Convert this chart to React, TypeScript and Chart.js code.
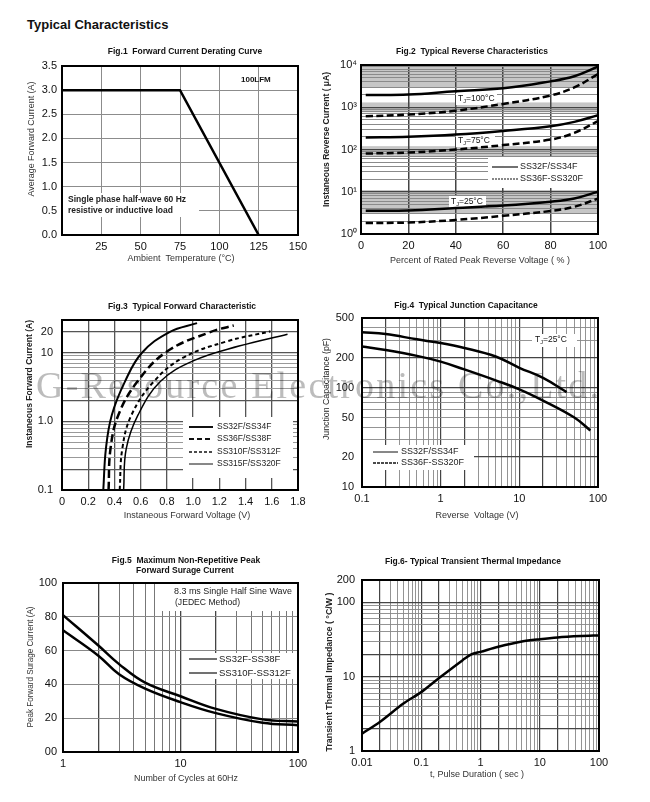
import React, { useEffect, useRef } from "react";
import { Chart, registerables } from "chart.js";
Chart.register(...registerables);

const SANS = "'Liberation Sans', Arial, Helvetica, sans-serif";

// ---------------- Fig.1 Forward Current Derating Curve
const fig1Temp = [0, 75, 125];
const fig1Current = [3.0, 3.0, 0.0];

// ---------------- Fig.2 Typical Reverse Characteristics
const fig2Percent = [2, 20, 40, 60, 80, 90, 100];
const fig2Solid100 = [1950, 2000, 2400, 2800, 4100, 5400, 9100];
const fig2Dash100 = [610, 670, 830, 1200, 1900, 2950, 6100];
const fig2Solid75 = [192, 200, 225, 275, 355, 450, 650];
const fig2Dash75 = [80, 85, 100, 127, 172, 247, 470];
const fig2Solid25 = [3.55, 3.6, 4.1, 4.7, 5.8, 6.9, 10];
const fig2Dash25 = [1.82, 1.87, 2.15, 2.7, 3.5, 4.4, 6.9];
const fig2YTickValues = [1, 10, 100, 1000, 10000];
const fig2YTickLabels = ["10⁰", "10¹", "10²", "10³", "10⁴"];

// ---------------- Fig.3 Typical Forward Characteristic
const fig3V1 = [0.315, 0.335, 0.38, 0.48, 0.61, 0.82, 1.03];
const fig3I1 = [0.1, 0.4, 1.24, 3.8, 10, 20, 27];
const fig3V2 = [0.355, 0.37, 0.43, 0.575, 0.8, 1.13, 1.31];
const fig3I2 = [0.1, 0.4, 1.24, 3.8, 10.4, 20, 25];
const fig3V3 = [0.44, 0.46, 0.53, 0.7, 0.92, 1.25, 1.59];
const fig3I3 = [0.1, 0.4, 1.24, 3.8, 8.4, 14.5, 20.5];
const fig3V4 = [0.47, 0.49, 0.58, 0.75, 1.0, 1.35, 1.72];
const fig3I4 = [0.1, 0.4, 1.24, 3.8, 7.6, 12.5, 18.6];
const fig3YTickValues = [0.1, 1, 10, 20];
const fig3YTickLabels = ["0.1", "1.0", "10", "20"];

// ---------------- Fig.4 Typical Junction Capacitance
const fig4VUpper = [0.1, 0.2, 0.5, 1, 2, 5, 10, 20, 40];
const fig4CUpper = [360, 345, 305, 280, 250, 205, 158, 125, 90];
const fig4VLower = [0.1, 0.2, 0.5, 1, 2, 5, 10, 20, 50, 80];
const fig4CLower = [258, 238, 208, 182, 152, 118, 96, 74, 50, 37];
const fig4YTickValues = [10, 20, 50, 100, 200, 500];
const fig4YTickLabels = ["10", "20", "50", "100", "200", "500"];
const fig4XTickValues = [0.1, 1, 10, 100];
const fig4XTickLabels = ["0.1", "1", "10", "100"];

// ---------------- Fig.5 Maximum Non-Repetitive Peak Forward Surge Current
const fig5Cycles = [1, 2, 3, 5, 10, 20, 50, 100];
const fig5Upper = [81, 63, 52, 41, 33, 25.5, 19.3, 18];
const fig5Lower = [72, 57, 46, 37.5, 29.5, 23, 17.3, 15.8];
const fig5XTickValues = [1, 10, 100];
const fig5XTickLabels = ["1", "10", "100"];

// ---------------- Fig.6 Typical Transient Thermal Impedance
const fig6Time = [0.01, 0.02, 0.05, 0.1, 0.2, 0.5, 0.7, 1, 2, 5, 10, 20, 50, 100];
const fig6Z = [1.71, 2.46, 4.35, 6.2, 9.6, 16.7, 20, 21.6, 25.3, 29.8, 32, 33.8, 35.2, 35.9];
const fig6YTickValues = [1, 10, 100, 200];
const fig6YTickLabels = ["1", "10", "100", "200"];
const fig6XTickValues = [0.01, 0.1, 1, 10, 100];
const fig6XTickLabels = ["0.01", "0.1", "1", "10", "100"];

// ---------------- helpers
type TextSpec = { t: string; x: number; y: number; size: number; bold?: boolean; align?: CanvasTextAlign; rot?: boolean; maxW?: number; color?: string };
type LineSpec = { x0: number; x1: number; y: number; w: number; dash?: number[] };
type TJSpec = { x: number; y: number; rest: string };
type DecoSpec = { ox: number; oy: number; boxes?: number[][]; texts?: TextSpec[]; lines?: LineSpec[]; tj?: TJSpec[]; bands?: number[][]; bandColor?: string };

function makeDeco(d: DecoSpec) {
  return {
    id: "deco",
    beforeDraw(chart: any) {
      const ctx = chart.ctx;
      const a = chart.chartArea;
      ctx.save();
      ctx.fillStyle = "#fff";
      ctx.fillRect(0, 0, chart.width, chart.height);
      if (d.bands) {
        const ys = chart.scales.y;
        ctx.fillStyle = d.bandColor || "#c8c8c8";
        for (const [lo, hi] of d.bands) {
          const y0 = ys.getPixelForValue(hi);
          const y1 = ys.getPixelForValue(lo);
          ctx.fillRect(a.left, y0, a.right - a.left, y1 - y0);
        }
      }
      ctx.restore();
    },
    beforeDatasetsDraw(chart: any) {
      const ctx = chart.ctx;
      ctx.save();
      ctx.fillStyle = "#fff";
      for (const [x0, y0, x1, y1] of d.boxes || []) ctx.fillRect(x0 - d.ox, y0 - d.oy, x1 - x0, y1 - y0);
      ctx.restore();
    },
    afterDatasetsDraw(chart: any) {
      const ctx = chart.ctx;
      const a = chart.chartArea;
      ctx.save();
      ctx.strokeStyle = "#000";
      ctx.lineWidth = 2;
      ctx.strokeRect(a.left, a.top, a.right - a.left, a.bottom - a.top);
      for (const l of d.lines || []) {
        ctx.beginPath();
        ctx.setLineDash(l.dash || []);
        ctx.lineWidth = l.w;
        ctx.strokeStyle = "#111";
        ctx.moveTo(l.x0 - d.ox, l.y - d.oy);
        ctx.lineTo(l.x1 - d.ox, l.y - d.oy);
        ctx.stroke();
      }
      ctx.setLineDash([]);
      ctx.textBaseline = "middle";
      for (const t of d.texts || []) {
        ctx.font = `${t.bold ? "bold " : ""}${t.size}px ${SANS}`;
        ctx.fillStyle = t.color || "#111";
        ctx.textAlign = t.align || "left";
        const x = t.x - d.ox;
        const y = t.y - d.oy;
        if (t.rot) {
          ctx.save();
          ctx.translate(x, y);
          ctx.rotate(-Math.PI / 2);
          if (t.maxW) ctx.fillText(t.t, 0, 0, t.maxW);
          else ctx.fillText(t.t, 0, 0);
          ctx.restore();
        } else if (t.maxW) ctx.fillText(t.t, x, y, t.maxW);
        else ctx.fillText(t.t, x, y);
      }
      ctx.textAlign = "left";
      ctx.fillStyle = "#111";
      for (const j of d.tj || []) {
        let x = j.x - d.ox;
        const y = j.y - d.oy;
        ctx.font = `8.5px ${SANS}`;
        ctx.fillText("T", x, y);
        x += ctx.measureText("T").width;
        ctx.font = `5.5px ${SANS}`;
        ctx.fillText("J", x, y + 2.5);
        x += ctx.measureText("J").width;
        ctx.font = `8.5px ${SANS}`;
        ctx.fillText(j.rest, x, y);
      }
      ctx.restore();
    },
  };
}

function logTicks(min: number, max: number) {
  const out: number[] = [];
  let e = Math.floor(Math.log10(min) + 1e-9);
  for (let guard = 0; guard < 20; guard++) {
    for (let s = 1; s <= 9; s++) {
      const v = parseFloat((s * Math.pow(10, e)).toPrecision(6));
      if (v > max * (1 + 1e-9)) return out;
      if (v >= min * (1 - 1e-9)) out.push(v);
    }
    e++;
  }
  return out;
}

function sigOf(v: number) {
  const e = Math.floor(Math.log10(v) + 1e-9);
  return Math.round(v / Math.pow(10, e));
}

function lookup(values: number[], labels: string[]) {
  return (v: any) => {
    const n = Number(v);
    const i = values.findIndex((t) => Math.abs(t - n) <= Math.abs(t) * 1e-6);
    return i >= 0 ? labels[i] : "";
  };
}

const TICK_FONT = { family: SANS, size: 11 };
const TICK_COLOR = "#111";

function logGrid(major: string, minor: string, mw: number, nw: number) {
  return {
    drawTicks: false,
    color: (c: any) => (c.tick && [1, 2].includes(sigOf(c.tick.value)) ? major : minor),
    lineWidth: (c: any) => (c.tick && [1, 2].includes(sigOf(c.tick.value)) ? mw : nw),
  };
}

function layoutFor(rect: number[], plot: number[]) {
  const [cx, cy, cw, ch] = rect;
  const [pl, pt, pr, pb] = plot;
  return {
    padding: { left: 0, top: pt - cy, right: cx + cw - pr, bottom: 0 },
    yFit: (s: any) => {
      s.width = pl - cx;
    },
    xFit: (s: any) => {
      s.height = cy + ch - pb;
    },
  };
}

function pts(xs: number[], ys: number[]) {
  return xs.map((x, i) => ({ x, y: ys[i] }));
}

function ds(xs: number[], ys: number[], w: number, dash: number[] = [], tension = 0.4) {
  return {
    data: pts(xs, ys),
    borderColor: "#000",
    borderWidth: w,
    borderDash: dash,
    pointRadius: 0,
    fill: false,
    tension,
  };
}

function Panel({ rect, build }: { rect: number[]; build: () => any }) {
  const ref = useRef<HTMLCanvasElement>(null);
  useEffect(() => {
    const chart = new Chart(ref.current as HTMLCanvasElement, build());
    return () => chart.destroy();
  }, []);
  return (
    <div style={{ position: "absolute", left: rect[0], top: rect[1], width: rect[2], height: rect[3] }}>
      <canvas ref={ref} />
    </div>
  );
}

const baseOpts = {
  animation: false,
  responsive: true,
  maintainAspectRatio: false,
  plugins: { legend: { display: false }, tooltip: { enabled: false }, title: { display: false } },
  events: [],
};

// ---------------- chart builders
const R1 = [0, 40, 320, 240];
const P1 = [62, 66, 298, 235];
function build1() {
  const L = layoutFor(R1, P1);
  return {
    type: "line",
    data: { datasets: [ds(fig1Temp, fig1Current, 2.5, [], 0)] },
    options: {
      ...baseOpts,
      layout: { padding: L.padding },
      scales: {
        x: {
          type: "linear", min: 0, max: 150, afterFit: L.xFit,
          ticks: { stepSize: 25, font: TICK_FONT, color: TICK_COLOR, padding: 5, maxRotation: 0, autoSkip: false, callback: (v: any) => (Number(v) === 0 ? "" : String(v)) },
          grid: { color: "#8c8c8c", lineWidth: 1, drawTicks: false }, border: { display: false },
        },
        y: {
          type: "linear", min: 0, max: 3.5, afterFit: L.yFit,
          ticks: { stepSize: 0.5, font: TICK_FONT, color: TICK_COLOR, padding: 5, autoSkip: false, callback: (v: any) => Number(v).toFixed(1) },
          grid: { color: "#8c8c8c", lineWidth: 1, drawTicks: false }, border: { display: false },
        },
      },
    },
    plugins: [
      makeDeco({
        ox: R1[0], oy: R1[1],
        boxes: [[63, 193, 199, 217]],
        texts: [
          { t: "Fig.1  Forward Current Derating Curve", x: 185, y: 52, size: 8.5, bold: true, align: "center", maxW: 156 },
          { t: "Ambient  Temperature (°C)", x: 181, y: 259, size: 9, align: "center", maxW: 107, color: "#333" },
          { t: "Average Forward Current (A)", x: 32, y: 139, size: 9, rot: true, align: "center", maxW: 115, color: "#333" },
          { t: "100LFM", x: 241, y: 80, size: 8, bold: true, maxW: 35 },
          { t: "Single phase half-wave 60 Hz", x: 68, y: 200, size: 8.5, bold: true, maxW: 129, color: "#222" },
          { t: "resistive or inductive load", x: 68, y: 211, size: 8.5, bold: true, maxW: 115, color: "#222" },
        ],
      }),
    ],
  };
}

const R2 = [320, 40, 330, 240];
const P2 = [361, 65, 598, 234];
function build2() {
  const L = layoutFor(R2, P2);
  const dash = [7, 3.5];
  return {
    type: "line",
    data: {
      datasets: [
        ds(fig2Percent, fig2Solid100, 2.5),
        ds(fig2Percent, fig2Dash100, 2.5, dash),
        ds(fig2Percent, fig2Solid75, 2.5),
        ds(fig2Percent, fig2Dash75, 2.5, dash),
        ds(fig2Percent, fig2Solid25, 2.5),
        ds(fig2Percent, fig2Dash25, 2.5, dash),
      ],
    },
    options: {
      ...baseOpts,
      layout: { padding: L.padding },
      scales: {
        x: {
          type: "linear", min: 0, max: 100, afterFit: L.xFit,
          ticks: { stepSize: 20, font: TICK_FONT, color: TICK_COLOR, padding: 5, maxRotation: 0, autoSkip: false },
          grid: { color: "#444", lineWidth: 1.5, drawTicks: false }, border: { display: false },
        },
        y: {
          type: "logarithmic", min: 1, max: 10000, afterFit: L.yFit,
          afterBuildTicks: (s: any) => { s.ticks = logTicks(1, 10000).map((value) => ({ value })); },
          ticks: { font: TICK_FONT, color: TICK_COLOR, padding: 4, autoSkip: false, callback: lookup(fig2YTickValues, fig2YTickLabels) },
          grid: {
            drawTicks: false,
            color: (c: any) => (c.tick && sigOf(c.tick.value) === 1 ? "#444" : "#8a8a8a"),
            lineWidth: (c: any) => (c.tick && sigOf(c.tick.value) === 1 ? 1.3 : 1),
          },
          border: { display: false },
        },
      },
    },
    plugins: [
      makeDeco({
        ox: R2[0], oy: R2[1],
        bands: [[2950, 10000], [760, 1300], [67, 120], [3, 11]],
        bandColor: "#c6c6c6",
        boxes: [[488, 157, 598, 188], [456, 93, 497, 105], [456, 135, 495, 147], [449, 196, 486, 208]],
        lines: [
          { x0: 492, x1: 518, y: 167, w: 1.2 },
          { x0: 492, x1: 518, y: 179, w: 1.2, dash: [2, 1] },
        ],
        texts: [
          { t: "Fig.2  Typical Reverse Characteristics", x: 472, y: 52, size: 8.5, bold: true, align: "center", maxW: 152 },
          { t: "Percent of Rated Peak Reverse Voltage ( % )", x: 480, y: 261, size: 9, align: "center", maxW: 180, color: "#333" },
          { t: "Instaneous Reverse Current ( μA)", x: 327, y: 139.5, size: 9, bold: true, rot: true, align: "center", maxW: 135, color: "#222" },
          { t: "SS32F/SS34F", x: 520, y: 167, size: 9, color: "#222" },
          { t: "SS36F-SS320F", x: 520, y: 179, size: 9, color: "#222" },
        ],
        tj: [
          { x: 458, y: 99, rest: "=100°C" },
          { x: 458, y: 141, rest: "=75°C" },
          { x: 451, y: 202, rest: "=25°C" },
        ],
      }),
    ],
  };
}

const R3 = [0, 290, 320, 240];
const P3 = [62, 320, 298, 490];
function build3() {
  const L = layoutFor(R3, P3);
  return {
    type: "line",
    data: {
      datasets: [
        ds(fig3V1, fig3I1, 2),
        ds(fig3V2, fig3I2, 2.5, [8, 4]),
        ds(fig3V3, fig3I3, 2, [4, 3]),
        ds(fig3V4, fig3I4, 1.5),
      ],
    },
    options: {
      ...baseOpts,
      layout: { padding: L.padding },
      scales: {
        x: {
          type: "linear", min: 0, max: 1.8, afterFit: L.xFit,
          ticks: { stepSize: 0.2, font: TICK_FONT, color: TICK_COLOR, padding: 5, maxRotation: 0, autoSkip: false, callback: (v: any) => (Math.abs(Number(v)) < 1e-9 ? "0" : Number(v).toFixed(1)) },
          grid: { color: "#555", lineWidth: 1.3, drawTicks: false }, border: { display: false },
        },
        y: {
          type: "logarithmic", min: 0.1, max: 30, afterFit: L.yFit,
          afterBuildTicks: (s: any) => { s.ticks = logTicks(0.1, 30).map((value) => ({ value })); },
          ticks: { font: TICK_FONT, color: TICK_COLOR, padding: 9, autoSkip: false, callback: lookup(fig3YTickValues, fig3YTickLabels) },
          grid: logGrid("#555", "#999", 1.3, 1), border: { display: false },
        },
      },
    },
    plugins: [
      makeDeco({
        ox: R3[0], oy: R3[1],
        boxes: [[183, 417, 293, 478]],
        lines: [
          { x0: 189, x1: 213, y: 427, w: 2 },
          { x0: 189, x1: 213, y: 439, w: 2, dash: [5, 3] },
          { x0: 189, x1: 213, y: 452, w: 1.5, dash: [3, 2] },
          { x0: 189, x1: 213, y: 464, w: 1 },
        ],
        texts: [
          { t: "Fig.3  Typical Forward Characteristic", x: 182, y: 307, size: 8.5, bold: true, align: "center", maxW: 150 },
          { t: "Instaneous Forward Voltage (V)", x: 187, y: 516, size: 9, align: "center", maxW: 128, color: "#333" },
          { t: "Instaneous Forward Current (A)", x: 30, y: 384, size: 9, bold: true, rot: true, align: "center", maxW: 128, color: "#222" },
          { t: "SS32F/SS34F", x: 217, y: 427, size: 8.5, color: "#222" },
          { t: "SS36F/SS38F", x: 217, y: 439, size: 8.5, color: "#222" },
          { t: "SS310F/SS312F", x: 217, y: 452, size: 8.5, color: "#222" },
          { t: "SS315F/SS320F", x: 217, y: 464, size: 8.5, color: "#222" },
        ],
      }),
    ],
  };
}

const R4 = [320, 290, 330, 240];
const P4 = [362, 318, 598, 487];
function build4() {
  const L = layoutFor(R4, P4);
  return {
    type: "line",
    data: { datasets: [ds(fig4VUpper, fig4CUpper, 2.5), ds(fig4VLower, fig4CLower, 2.5)] },
    options: {
      ...baseOpts,
      layout: { padding: L.padding },
      scales: {
        x: {
          type: "logarithmic", min: 0.1, max: 100, afterFit: L.xFit,
          afterBuildTicks: (s: any) => { s.ticks = logTicks(0.1, 100).map((value) => ({ value })); },
          ticks: { font: TICK_FONT, color: TICK_COLOR, padding: 5, maxRotation: 0, autoSkip: false, callback: lookup(fig4XTickValues, fig4XTickLabels) },
          grid: logGrid("#444", "#888", 1.2, 0.9), border: { display: false },
        },
        y: {
          type: "logarithmic", min: 10, max: 500, afterFit: L.yFit,
          afterBuildTicks: (s: any) => { s.ticks = logTicks(10, 500).map((value) => ({ value })); },
          ticks: { font: TICK_FONT, color: TICK_COLOR, padding: 8, autoSkip: false, callback: lookup(fig4YTickValues, fig4YTickLabels) },
          grid: logGrid("#444", "#888", 1.2, 0.9), border: { display: false },
        },
      },
    },
    plugins: [
      makeDeco({
        ox: R4[0], oy: R4[1],
        boxes: [[363, 445, 474, 470], [532, 334, 577, 347]],
        lines: [
          { x0: 373, x1: 398, y: 452, w: 1 },
          { x0: 373, x1: 398, y: 463, w: 1.5, dash: [3, 1] },
        ],
        texts: [
          { t: "Fig.4  Typical Junction Capacitance", x: 466, y: 306, size: 8.5, bold: true, align: "center", maxW: 144 },
          { t: "Reverse  Voltage (V)", x: 477, y: 516, size: 9, align: "center", maxW: 83, color: "#333" },
          { t: "Junction Capacitance (pF)", x: 327, y: 389, size: 9, rot: true, align: "center", maxW: 102, color: "#222" },
          { t: "SS32F/SS34F", x: 401, y: 452, size: 9, color: "#222" },
          { t: "SS36F-SS320F", x: 401, y: 463, size: 9, color: "#222" },
        ],
        tj: [{ x: 535, y: 340, rest: "=25°C" }],
      }),
    ],
  };
}

const R5 = [0, 550, 320, 252];
const P5 = [63, 583, 298, 752];
function build5() {
  const L = layoutFor(R5, P5);
  return {
    type: "line",
    data: { datasets: [ds(fig5Cycles, fig5Upper, 2.5), ds(fig5Cycles, fig5Lower, 2.5)] },
    options: {
      ...baseOpts,
      layout: { padding: L.padding },
      scales: {
        x: {
          type: "logarithmic", min: 1, max: 100, afterFit: L.xFit,
          afterBuildTicks: (s: any) => { s.ticks = logTicks(1, 100).map((value) => ({ value })); },
          ticks: { font: TICK_FONT, color: TICK_COLOR, padding: 5, maxRotation: 0, autoSkip: false, callback: lookup(fig5XTickValues, fig5XTickLabels) },
          grid: logGrid("#444", "#777", 1.3, 1), border: { display: false },
        },
        y: {
          type: "linear", min: 0, max: 100, afterFit: L.yFit,
          ticks: { stepSize: 20, font: TICK_FONT, color: TICK_COLOR, padding: 6, autoSkip: false, callback: (v: any) => (Number(v) === 0 ? "00" : String(v)) },
          grid: { color: "#888", lineWidth: 1, drawTicks: false }, border: { display: false },
        },
      },
    },
    plugins: [
      makeDeco({
        ox: R5[0], oy: R5[1],
        boxes: [[160, 584, 297, 611], [185, 653, 297, 679]],
        lines: [
          { x0: 189, x1: 217, y: 659, w: 1.2 },
          { x0: 189, x1: 217, y: 673, w: 1.2 },
        ],
        texts: [
          { t: "Fig.5  Maximum Non-Repetitive Peak", x: 186, y: 561, size: 8.5, bold: true, align: "center", maxW: 149 },
          { t: "Forward Surage Current", x: 185, y: 571, size: 8.5, bold: true, align: "center", maxW: 99 },
          { t: "Number of Cycles at 60Hz", x: 186, y: 779, size: 9, align: "center", maxW: 104, color: "#333" },
          { t: "Peak Forward Surage Current (A)", x: 31, y: 667, size: 9, rot: true, align: "center", maxW: 121, color: "#333" },
          { t: "8.3 ms Single Half Sine Wave", x: 174, y: 592, size: 9, maxW: 118, color: "#222" },
          { t: "(JEDEC Method)", x: 175, y: 603, size: 9, maxW: 65, color: "#222" },
          { t: "SS32F-SS38F", x: 219, y: 659, size: 9.5, color: "#222" },
          { t: "SS310F-SS312F", x: 219, y: 673, size: 9.5, color: "#222" },
        ],
      }),
    ],
  };
}

const R6 = [320, 550, 330, 252];
const P6 = [362, 580, 599, 751];
function build6() {
  const L = layoutFor(R6, P6);
  return {
    type: "line",
    data: { datasets: [ds(fig6Time, fig6Z, 2.5, [], 0.3)] },
    options: {
      ...baseOpts,
      layout: { padding: L.padding },
      scales: {
        x: {
          type: "logarithmic", min: 0.01, max: 100, afterFit: L.xFit,
          afterBuildTicks: (s: any) => { s.ticks = logTicks(0.01, 100).map((value) => ({ value })); },
          ticks: { font: TICK_FONT, color: TICK_COLOR, padding: 5, maxRotation: 0, autoSkip: false, callback: lookup(fig6XTickValues, fig6XTickLabels) },
          grid: logGrid("#444", "#888", 1.2, 0.9), border: { display: false },
        },
        y: {
          type: "logarithmic", min: 1, max: 200, afterFit: L.yFit,
          afterBuildTicks: (s: any) => { s.ticks = logTicks(1, 200).map((value) => ({ value })); },
          ticks: { font: TICK_FONT, color: TICK_COLOR, padding: 7, autoSkip: false, callback: lookup(fig6YTickValues, fig6YTickLabels) },
          grid: logGrid("#444", "#888", 1.2, 0.9), border: { display: false },
        },
      },
    },
    plugins: [
      makeDeco({
        ox: R6[0], oy: R6[1],
        texts: [
          { t: "Fig.6- Typical Transient Thermal Impedance", x: 473, y: 562, size: 8.5, bold: true, align: "center", maxW: 177 },
          { t: "t, Pulse Duration ( sec )", x: 477, y: 775, size: 9, align: "center", maxW: 94, color: "#333" },
          { t: "Transient Thermal Impedance ( °C/W )", x: 330, y: 672, size: 9, bold: true, rot: true, align: "center", maxW: 159, color: "#222" },
        ],
      }),
    ],
  };
}

export default function App() {
  return (
    <div style={{ position: "absolute", left: 0, top: 0, width: 650, height: 802, background: "#fff", overflow: "hidden" }}>
      <div style={{ position: "absolute", left: 27, top: 18, font: `bold 13px ${SANS}`, lineHeight: "13px", color: "#111", whiteSpace: "nowrap" }}>
        Typical Characteristics
      </div>
      <Panel rect={R1} build={build1} />
      <Panel rect={R2} build={build2} />
      <Panel rect={R3} build={build3} />
      <Panel rect={R4} build={build4} />
      <Panel rect={R5} build={build5} />
      <Panel rect={R6} build={build6} />
      <div
        style={{
          position: "absolute", left: 36, top: 366, font: "38px 'Liberation Serif', 'Times New Roman', serif",
          lineHeight: "38px", letterSpacing: "2.2px", color: "#bcbcbc", mixBlendMode: "multiply", whiteSpace: "nowrap", pointerEvents: "none",
        }}
      >
        G-Resource Electronics Co.,Ltd.
      </div>
    </div>
  );
}
